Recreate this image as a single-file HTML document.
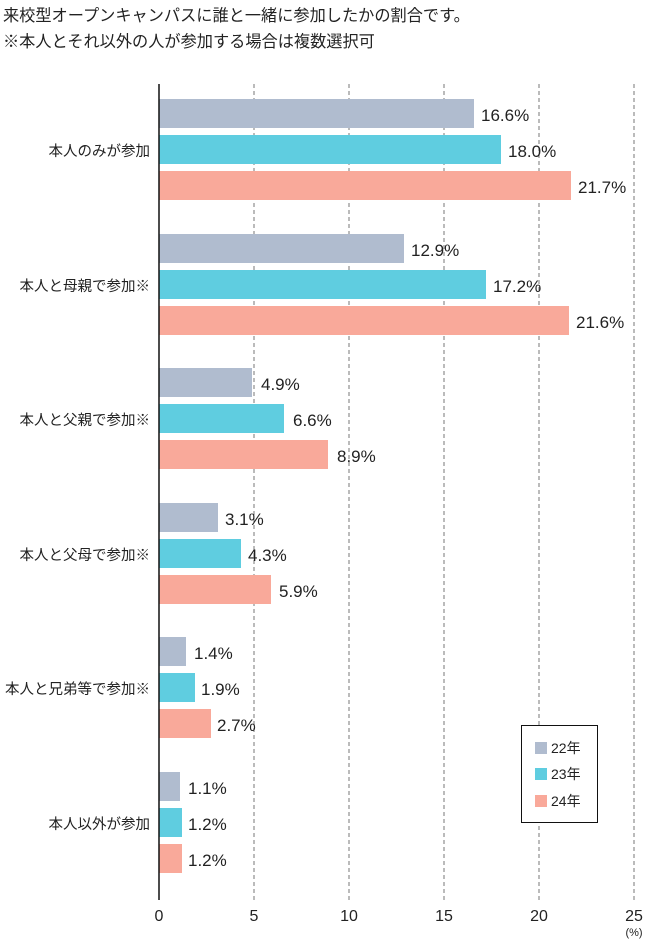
<!DOCTYPE html>
<html><head><meta charset="utf-8"><style>
body{margin:0;background:#fff}
svg text{font-family:"Liberation Sans","Noto Sans CJK JP",sans-serif;fill:#222}
</style></head><body>
<svg width="647" height="944" viewBox="0 0 647 944" xmlns="http://www.w3.org/2000/svg">
<text x="3" y="21" font-size="16.2">来校型オープンキャンパスに誰と一緒に参加したかの割合です。</text>
<text x="3" y="47" font-size="16.2">※本人とそれ以外の人が参加する場合は複数選択可</text>
<g stroke="#777" stroke-dasharray="4,3" stroke-width="1">
<line x1="254" y1="84" x2="254" y2="900"/><line x1="349" y1="84" x2="349" y2="900"/>
<line x1="444" y1="84" x2="444" y2="900"/><line x1="539" y1="84" x2="539" y2="900"/>
<line x1="634" y1="84" x2="634" y2="900"/>
</g>
<g font-size="16" text-anchor="middle">
<text x="159" y="921">0</text><text x="254" y="921">5</text><text x="349" y="921">10</text><text x="444" y="921">15</text><text x="539" y="921">20</text><text x="634" y="921">25</text>
<text x="634" y="936" font-size="11">(%)</text>
</g>
<g id="bars" font-size="17">
<rect x="159" y="99" width="315" height="29" fill="#b0bccf"/><text x="481" y="121">16.6%</text>
<rect x="159" y="135" width="342" height="29" fill="#5fcde0"/><text x="508" y="157">18.0%</text>
<rect x="159" y="171" width="412" height="29" fill="#f9a99a"/><text x="578" y="193">21.7%</text>

<rect x="159" y="234" width="245" height="29" fill="#b0bccf"/><text x="411" y="256">12.9%</text>
<rect x="159" y="270" width="327" height="29" fill="#5fcde0"/><text x="493" y="292">17.2%</text>
<rect x="159" y="306" width="410" height="29" fill="#f9a99a"/><text x="576" y="328">21.6%</text>

<rect x="159" y="368" width="93" height="29" fill="#b0bccf"/><text x="261" y="390">4.9%</text>
<rect x="159" y="404" width="125" height="29" fill="#5fcde0"/><text x="293" y="426">6.6%</text>
<rect x="159" y="440" width="169" height="29" fill="#f9a99a"/><text x="337" y="462">8.9%</text>

<rect x="159" y="503" width="59" height="29" fill="#b0bccf"/><text x="225" y="525">3.1%</text>
<rect x="159" y="539" width="82" height="29" fill="#5fcde0"/><text x="248" y="561">4.3%</text>
<rect x="159" y="575" width="112" height="29" fill="#f9a99a"/><text x="279" y="597">5.9%</text>

<rect x="159" y="637" width="27" height="29" fill="#b0bccf"/><text x="194" y="659">1.4%</text>
<rect x="159" y="673" width="36" height="29" fill="#5fcde0"/><text x="201" y="695">1.9%</text>
<rect x="159" y="709" width="52" height="29" fill="#f9a99a"/><text x="217" y="731">2.7%</text>

<rect x="159" y="772" width="21" height="29" fill="#b0bccf"/><text x="188" y="794">1.1%</text>
<rect x="159" y="808" width="23" height="29" fill="#5fcde0"/><text x="188" y="830">1.2%</text>
<rect x="159" y="844" width="23" height="29" fill="#f9a99a"/><text x="188" y="866">1.2%</text>
</g>
<g font-size="14.5" text-anchor="end">
<text x="150" y="156">本人のみが参加</text>
<text x="150" y="291">本人と母親で参加※</text>
<text x="150" y="425">本人と父親で参加※</text>
<text x="150" y="560">本人と父母で参加※</text>
<text x="150" y="694">本人と兄弟等で参加※</text>
<text x="150" y="829">本人以外が参加</text>
</g>
<line x1="159" y1="84" x2="159" y2="900" stroke="#111" stroke-width="1.5"/>
<rect x="521.5" y="725.5" width="76" height="97" fill="#fff" stroke="#111"/>
<g font-size="14">
<rect x="535" y="742" width="12" height="12" fill="#b0bccf"/><text x="551" y="753">22年</text>
<rect x="535" y="768" width="12" height="12" fill="#5fcde0"/><text x="551" y="779">23年</text>
<rect x="535" y="795" width="12" height="12" fill="#f9a99a"/><text x="551" y="806">24年</text>
</g>
</svg>
</body></html>
